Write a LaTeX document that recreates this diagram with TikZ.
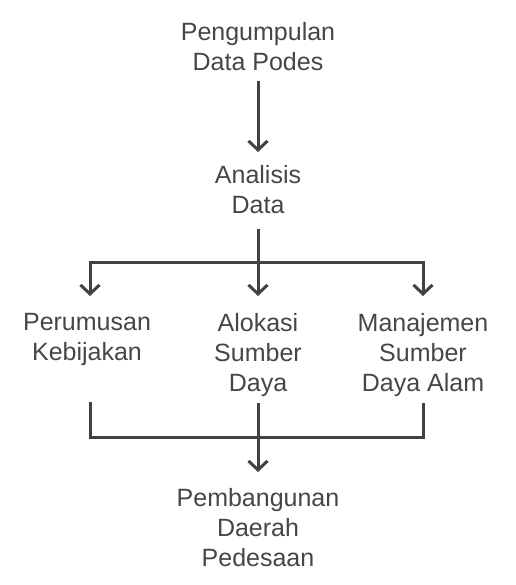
\documentclass[tikz,border=0pt]{standalone}
\usepackage{fontspec}
\setmainfont{Liberation Sans}
\usetikzlibrary{arrows.meta}
\definecolor{linecol}{RGB}{66,66,66}
\definecolor{textcol}{RGB}{70,70,70}
\tikzset{
  lbl/.style={anchor=north, inner sep=0pt, outer sep=0pt, align=center, text=textcol,
    font=\fontsize{25}{30}\selectfont},
  conn/.style={draw=linecol, line width=3pt},
  arr/.style={conn, -{Straight Barb[length=9pt,width=19pt]}},
}
\begin{document}
\begin{tikzpicture}[x={(1pt,0)}, y={(0,-1pt)}]
\useasboundingbox (0,0) rectangle (515,585);
\node[lbl] (n1) at (258,22) {Pengumpulan\\Data Podes};
\node[lbl] (n2) at (258,165) {Analisis\\Data};
\node[lbl] (n3) at (87,313) {Perumusan\\Kebijakan};
\node[lbl] (n4) at (258,313) {Alokasi\\Sumber\\Daya};
\node[lbl] (n5) at (423,313) {Manajemen\\Sumber\\Daya Alam};
\node[lbl] (n6) at (258,488) {Pembangunan\\Daerah\\Pedesaan};
\coordinate (j1) at (258,262);
\coordinate (j2) at (258,437);
\draw[arr, shorten <=11pt, shorten >=13pt] (n1.south) -- (n2.north);
\draw[conn, shorten <=16pt] (n2.south) -- (j1);
\draw[arr, shorten >=17pt] (j1) -| ([xshift=3pt]n3.north);
\draw[arr, shorten >=17pt] (j1) -| (n5.north);
\draw[arr, shorten >=17pt] (j1) -- (n4.north);
\draw[conn, shorten <=37pt] ([xshift=3pt]n3.south) |- (j2);
\draw[conn, shorten <=7pt] (n5.south) |- (j2);
\draw[arr, shorten <=7pt, shorten >=16pt] (n4.south) -- (n6.north);
\end{tikzpicture}
\end{document}
